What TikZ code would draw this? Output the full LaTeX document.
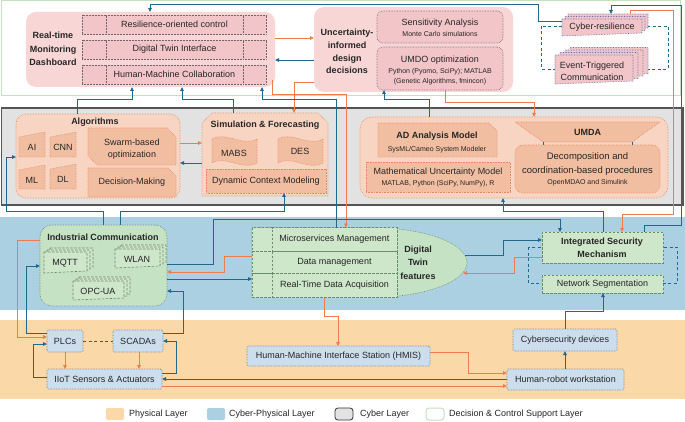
\documentclass[tikz,border=0pt]{standalone}
\usepackage{fontspec}
\setmainfont{Liberation Sans}
\usetikzlibrary{arrows.meta,calc}
\pgfdeclarelayer{back}
\pgfdeclarelayer{mid}
\pgfsetlayers{back,mid,main}
\definecolor{lblue}{RGB}{32,105,140}
\definecolor{lorange}{RGB}{238,125,78}
\definecolor{physbg}{RGB}{250,216,168}
\definecolor{cpbg}{RGB}{170,208,226}
\definecolor{cybbg}{RGB}{226,226,226}
\definecolor{cybbd}{RGB}{85,85,85}
\definecolor{decbd}{RGB}{196,224,192}
\definecolor{pinkA}{RGB}{248,214,214}
\definecolor{pinkB}{RGB}{242,197,201}
\definecolor{pinkbd}{RGB}{110,100,105}
\definecolor{crbd}{RGB}{95,105,165}
\definecolor{oraA}{RGB}{248,213,195}
\definecolor{oraB}{RGB}{242,190,162}
\definecolor{orabd}{RGB}{230,135,95}
\definecolor{grnA}{RGB}{198,226,196}
\definecolor{grnB}{RGB}{206,230,201}
\definecolor{grnbd}{RGB}{105,140,105}
\definecolor{phyA}{RGB}{204,222,237}
\definecolor{phybd}{RGB}{100,120,140}
\newcommand\myfn{\fontsize{9}{11}\selectfont}
\newcommand\mysm{\fontsize{7}{8.5}\selectfont}
\newcommand\mybf{\fontsize{9}{12.8}\selectfont\bfseries}
\newcommand\mybfw{\fontsize{9}{13.5}\selectfont\bfseries}
\newcommand\mymd{\fontsize{9.5}{14}\selectfont}
\newcommand\mytw{\fontsize{9}{12}\selectfont}
\tikzset{
 every node/.style={inner sep=0pt, outer sep=0pt, font=\myfn, align=center, text=black!85},
 bx/.style n args={4}{minimum width={#3-#1}, minimum height={#4-#2}, at={({(#1+#3)/2},{(#2+#4)/2})}},
 mycell/.style={fill=pinkB, draw=pinkbd, densely dotted, line width=0.5pt},
 mypinner/.style={fill=pinkB, draw=pinkbd, densely dotted, line width=0.6pt, rounded corners=6pt},
 mycrs/.style={fill=pinkB, draw=crbd, densely dotted, line width=0.6pt},
 myoout/.style={fill=oraA, draw=orabd, densely dotted, line width=0.6pt},
 myoin/.style={fill=oraB, draw=orabd, densely dotted, line width=0.6pt},
 mygout/.style={fill=grnA, draw=grnbd, densely dotted, line width=0.6pt},
 mygin/.style={fill=grnB, draw=grnbd, dash pattern=on 2.5pt off 1.5pt, line width=0.6pt},
 myphb/.style={fill=phyA, draw=phybd, densely dotted, line width=0.6pt, rounded corners=1.5pt},
 barr/.style={draw=lblue, line width=0.9pt, -{Triangle[length=4pt,width=3.6pt]}},
 oarr/.style={draw=lorange, line width=0.9pt, -{Triangle[length=4pt,width=3.6pt]}},
 bline/.style={draw=lblue, line width=0.9pt},
 mybdash/.style={draw=lblue, line width=0.9pt, dash pattern=on 3pt off 2.5pt},
}
\begin{document}
\begin{tikzpicture}[x=1pt,y=-1pt]
\useasboundingbox (0,0) rectangle (685,422);
\begin{pgfonlayer}{back}
\fill[white] (0,0) rectangle (685,422);
\filldraw[fill=white, draw=decbd, line width=1pt] (1,1) rectangle (680,96);
\filldraw[fill=cybbg, draw=cybbd, line width=1.6pt] (1.5,108) rectangle (683,205);
\fill[cpbg] (0,217) rectangle (685,310);
\fill[physbg] (0,320) rectangle (685,399);
\end{pgfonlayer}
\begin{pgfonlayer}{mid}
\draw[mybdash] (541,26) rectangle (668,69);
\draw[mybdash] (528,247) rectangle (677,283);
\end{pgfonlayer}

% ===== Decision & control support layer
\node[bx={26}{12}{275}{87}, fill=pinkA, rounded corners=10pt] (dash) {};
\node[font=\mybfw] (dashlbl) at (53,49) {Real-time\\Monitoring\\Dashboard};
\foreach \r/\ya/\yb/\t in {1/15/34/Resilience-oriented control, 2/40/59/Digital Twin Interface, 3/65/84/Human-Machine Collaboration}{
  \node[bx={82}{\ya}{106}{\yb}, mycell] (drl\r) {};
  \node[bx={243}{\ya}{266}{\yb}, mycell] (drr\r) {};
  \node[bx={106}{\ya}{243}{\yb}, mycell] (dr\r) {\t};
}
\coordinate (dashbr) at (272,80);

\node[bx={314}{7}{513}{92}, fill=pinkA, rounded corners=10pt] (unc) {};
\node[font=\mybf] (unclbl) at (347,51.5) {Uncertainty-\\informed\\design\\decisions};
\node[bx={377}{11}{503}{43}, mypinner] (sens) {};
\node (senst) at (440,23) {Sensitivity Analysis};
\node[font=\mysm] (sensd) at (440,34) {Monte Carlo simulations};
\node[bx={377}{47}{503}{90}, mypinner] (umdo) {};
\node (umdot) at (440,60) {UMDO optimization};
\node[font=\mysm] (umdod) at (440,72) {Python (Pyomo, SciPy); MATLAB};
\node[font=\mysm] (umdoe) at (440,81.5) {(Genetic Algorithms, fmincon)};

\foreach \k in {2,1,0}{
 \begin{scope}[shift={(3*\k,-2.5*\k)}]
 \filldraw[mycrs] (562,19) -- (642,19) -- (642,33) -- (562,36) -- cycle;
 \end{scope}}
\node[bx={562}{19}{642}{35}] (cr) {Cyber-resilience};
\foreach \k in {3,2,1,0}{
 \begin{scope}[shift={(5*\k,-2.5*\k)}]
 \filldraw[mycrs] (555,55) -- (633,55) -- (633,81) -- (555,84) -- cycle;
 \end{scope}}
\node[bx={555}{55}{633}{84}] (etc) {};
\node[font=\mytw] (etct) at (592,71) {Event-Triggered\\Communication};
\coordinate (crback) at (611,14);
\coordinate (crback2) at (630,14);

% ===== Cyber layer
\node[bx={16}{114}{180}{198}, myoout, rounded corners=10pt] (alg) {};
\node[font=\mybf] (algt) at (95,122) {Algorithms};
\filldraw[myoin] (19,137) -- (45,132) -- (45,157) -- (19,157) -- cycle;
\node (ai) at (32,147) {AI};
\filldraw[myoin] (50,137) -- (76,132) -- (76,157) -- (50,157) -- cycle;
\node (cnn) at (63,147) {CNN};
\filldraw[myoin] (19,170) -- (45,165) -- (45,189) -- (19,189) -- cycle;
\node (ml) at (32,180) {ML};
\filldraw[myoin] (50,169) -- (76,164) -- (76,189) -- (50,189) -- cycle;
\node (dl) at (63,179) {DL};
\filldraw[myoin] (88,128) -- (167,128) -- (176,137) -- (176,165) -- (97,165) -- (88,156) -- cycle;
\node[font=\mytw] (swarm) at (132,149) {Swarm-based\\optimization};
\filldraw[myoin] (88,168) -- (168,168) -- (176,176) -- (176,197) -- (88,197) -- cycle;
\node (decm) at (132,182) {Decision-Making};

\filldraw[myoout] (212,113) -- (318,113) -- (328,123) -- (328,196) -- (202,196) -- (202,123) -- cycle;
\node[bx={202}{113}{328}{196}] (sim) {};
\node[font=\mybf] (simt) at (265,125) {Simulation \& Forecasting};
\filldraw[myoin] (212,139) .. controls (225,131) and (243,147) .. (257,139) -- (257,163) .. controls (243,171) and (225,155) .. (212,163) -- cycle;
\node (mabs) at (234,153) {MABS};
\filldraw[myoin] (278,139) .. controls (291,131) and (309,147) .. (323,139) -- (323,163) .. controls (309,171) and (291,155) .. (278,163) -- cycle;
\node (des) at (300,151) {DES};
\node[bx={206}{169}{326}{193}, myoin] (dcm) {Dynamic Context Modeling};

\node[bx={360}{117}{668}{198}, myoout, rounded corners=12pt] (mdo) {};
\filldraw[myoin] (378,123) -- (489,123) -- (497,131) -- (497,157) -- (378,157) -- cycle;
\node[font=\mybf] (ad) at (437,136.5) {AD Analysis Model};
\node[font=\mysm] (adt) at (437,149.5) {SysML/Cameo System Modeler};
\node[bx={366}{162}{510}{192}, myoin] (mum) {};
\node (mumt) at (438,172) {Mathematical Uncertainty Model};
\node[font=\mysm] (mumd) at (438,184) {MATLAB, Python (SciPy, NumPy), R};
\filldraw[myoin] (515,122) -- (660,122) -- (632,142) -- (543,142) -- cycle;
\node[font=\mybf] (umda) at (587.5,132) {UMDA};
\node[bx={515}{145}{660}{193}, myoin, rounded corners=8pt] (dec) {};
\node[font=\mymd] (dect) at (587.5,157) {Decomposition and};
\node[font=\mymd] (dect2) at (587.5,171) {coordination-based procedures};
\node[font=\mysm] (decd) at (587.5,183) {OpenMDAO and Simulink};
\draw[draw=lblue, line width=0.5pt] (543,142) -- (dec.north -| 543,0);
\draw[draw=lblue, line width=0.5pt] (632,142) -- (dec.north -| 632,0);

% ===== Cyber-physical layer
\node[bx={40}{225}{167}{306}, mygout, rounded corners=12pt] (ic) {};
\node[font=\mybf] (ict) at (103,237) {Industrial Communication};
\foreach \k in {2,1,0}{\begin{scope}[shift={(3*\k,-2*\k)}]
 \filldraw[mygin] (44,252) -- (87,252) -- (87,271) -- (44,273) -- cycle; \end{scope}}
\node (mqtt) at (65,263) {MQTT};
\foreach \k in {2,1,0}{\begin{scope}[shift={(3*\k,-2*\k)}]
 \filldraw[mygin] (115,249) -- (160,249) -- (160,266) -- (115,268) -- cycle; \end{scope}}
\node (wlan) at (137,259) {WLAN};
\foreach \k in {2,1,0}{\begin{scope}[shift={(3*\k,-2*\k)}]
 \filldraw[mygin] (73,281) -- (124,281) -- (124,298) -- (73,300) -- cycle; \end{scope}}
\node (opc) at (98,291) {OPC-UA};

\filldraw[mygout] (252,227.5) -- (370,227.5) .. controls (423.6,227.5) and (467,243.2) .. (467,262.5) .. controls (467,281.8) and (423.6,297.5) .. (370,297.5) -- (252,297.5) -- cycle;
\foreach \r/\ya/\yb/\t in {1/227.5/251.5/Microservices Management, 2/251.5/273.5/Data management, 3/273.5/297.5/Real-Time Data Acquisition}{
 \node[bx={252}{\ya}{272}{\yb}, mygin] (dtl\r) {};
 \node[bx={272}{\ya}{397}{\yb}, mygin] (dtr\r) {\t};
}
\node[font=\mybfw] (dt) at (418,262.5) {Digital\\Twin\\features};
\coordinate (dtA) at (465,255);
\coordinate (dtB) at (463,273);

\node[bx={542}{232}{663}{263}, mygin] (ism) {};
\node[font=\mybfw] (ismt) at (602,248) {Integrated Security\\Mechanism};
\node[bx={542}{275}{663}{293}, mygin] (ns) {Network Segmentation};

% ===== Physical layer
\node[bx={47}{330}{83}{352}, myphb] (plc) {PLCs};
\node[bx={113}{330}{163}{352}, myphb] (scada) {SCADAs};
\node[bx={47}{369}{162}{389}, myphb] (iiot) {IIoT Sensors \& Actuators};
\node[bx={247}{346}{430}{366}, myphb] (hmis) {Human-Machine Interface Station (HMIS)};
\node[bx={513}{329}{617}{351}, myphb] (cd) {Cybersecurity devices};
\node[bx={507}{369}{624}{390}, myphb] (hrw) {Human-robot workstation};

% ===== Legend
\node[bx={106}{408}{124}{420}, fill=physbg, rounded corners=2pt] (lg1) {};
\node[anchor=west] (lg1t) at (129,414) {Physical Layer};
\node[bx={207}{408}{225}{420}, fill=cpbg, rounded corners=2pt] (lg2) {};
\node[anchor=west] (lg2t) at (229,414) {Cyber-Physical Layer};
\node[bx={335}{408}{353}{420}, fill=cybbg, draw=black!80, line width=0.8pt, rounded corners=3pt] (lg3) {};
\node[anchor=west] (lg3t) at (360,414) {Cyber Layer};
\node[bx={426}{408}{444}{420}, fill=white, draw=decbd, line width=1pt, rounded corners=3pt] (lg4) {};
\node[anchor=west] (lg4t) at (449,414) {Decision \& Control Support Layer};

% ===== Connectors
\draw[barr] (cr.west |- 0,21) -- (538,21) |- (150,4) -- (dash.north -| 150,0);
\draw[barr] (ism.north -| 644,0) |- (681,225) |- (611,5) -- (crback);
\draw[oarr] (crback2) |- (673,10) |- (622,214) -- (ism.north -| 622,0);
\draw[oarr] (dash.east |- 0,38) -- (unc.west |- 0,38);
\draw[barr] (unc.west |- 0,60) -- (dash.east |- 0,60);
\draw[oarr] (dashbr) |- (346,94) -- (dtr1.north -| 346,0);
\draw[oarr] (unc.west |- 0,82) -| (sim.north -| 294,0);
\draw[barr] (alg.north -| 77,0) |- (132,99) -- (dash.south -| 132,0);
\draw[barr] (sim.north -| 233,0) |- (182,99) -- (dash.south -| 182,0);
\draw[barr] (dtr1.north -| 336,0) |- (262,99) -- (dash.south -| 262,0);
\draw[barr] (mdo.north -| 429,0) |- (384,99) -- (umdo.south -| 384,0);
\draw[oarr] (umdo.south -| 445,0) |- (534,102) -- (mdo.north -| 534,0);
\draw[oarr] (alg.east |- 0,143) -- (sim.west |- 0,143);
\draw[barr] (sim.west |- 0,163) -- (alg.east |- 0,163);
\draw[barr] (ic.north -| 103,0) |- (6,211) |- (alg.west |- 0,157);
\draw[barr] (ic.north -| 120,0) |- (284,211) -- (dcm.south -| 284,0);
\draw[barr] (ism.north -| 603,0) |- (503,211) -- (mdo.south -| 503,0);
\draw[barr] (ic.east |- 0,264) -| (213,219) -| (ism.north -| 560,0);
\draw[oarr] (dtl2.west |- 0,256) -| (224,272) -- (ic.east |- 0,272);
\draw[barr] (ic.east |- 0,279) -- (dtl3.west |- 0,279);
\draw[barr] (scada.east |- 0,333) -| (183,291) -- (ic.east |- 0,291);
\draw[oarr] (ic.west |- 0,240) -| (17,337) -- (plc.west |- 0,337);
\draw[barr] (plc.west |- 0,333) -| (26,266) -- (ic.west |- 0,266);
\draw[mybdash] (plc) -- (scada);
\draw[oarr] (plc.south -| 65,0) -- (iiot.north -| 65,0);
\draw[oarr] (scada.south -| 139,0) -- (iiot.north -| 139,0);
\draw[barr] (iiot.west |- 0,377) -| (33,344) -- (plc.west |- 0,344);
\draw[barr] (iiot.east |- 0,373) -| (176,341) -- (scada.east |- 0,341);
\draw[barr] (hrw.west |- 0,379) -- (iiot.east |- 0,379);
\draw[oarr] (iiot.east |- 0,386) -- (hrw.west |- 0,386);
\draw[oarr] (dtr3.south -| 324,0) |- (338,316) -- (hmis.north -| 338,0);
\draw[oarr] (hmis.east |- 0,352) -| (468,373) -- (hrw.west |- 0,373);
\draw[barr] (hrw.north -| 565,0) -- (cd.south -| 565,0);
\draw[barr] (cd.north -| 565,0) |- (603,311) -- (ns.south -| 603,0);
\draw[barr] (dtA) -| (503,240) -- (ism.west |- 0,240);
\draw[oarr] (ism.west |- 0,257) -| (514,273) -- (dtB);
\end{tikzpicture}
\end{document}
